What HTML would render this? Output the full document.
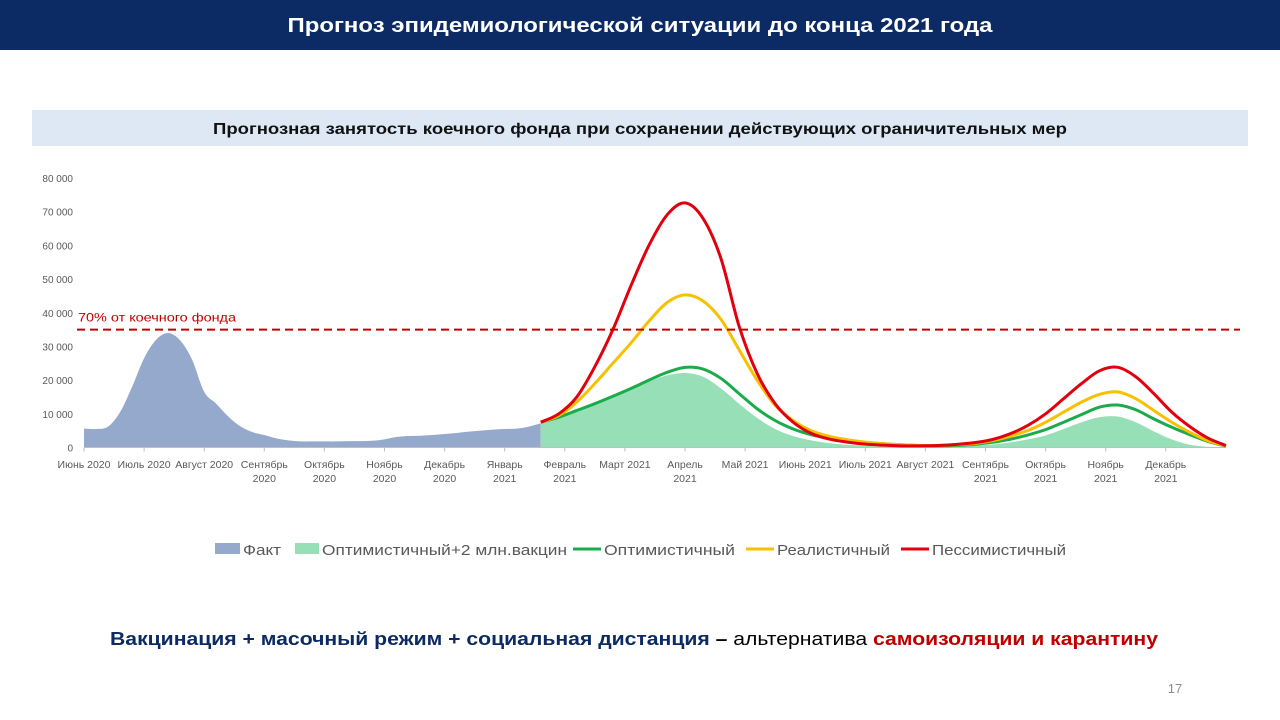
<!DOCTYPE html>
<html><head><meta charset="utf-8"><style>
html,body{margin:0;padding:0;background:#fff;}
svg{display:block;font-family:"Liberation Sans","Noto Sans CJK SC",sans-serif;}
</style></head><body>
<svg id="chart" width="1280" height="720" viewBox="0 0 1280 720">
<rect x="0" y="0" width="1280" height="50" fill="#0c2a63"/>
<text x="640" y="32" text-anchor="middle" font-size="20" font-weight="bold" fill="#fff" textLength="705" lengthAdjust="spacingAndGlyphs">Прогноз эпидемиологической ситуации до конца 2021 года</text>
<rect x="32" y="110" width="1216" height="36" fill="#dde8f4"/>
<text x="640" y="134" text-anchor="middle" font-size="16" font-weight="bold" fill="#111" textLength="854" lengthAdjust="spacingAndGlyphs">Прогнозная занятость коечного фонда при сохранении действующих ограничительных мер</text>
<g id="plot"></g>
<g id="legend" font-size="15" fill="#595959">
<rect x="215" y="543" width="25" height="11" fill="#95a9cc"/>
<text x="243" y="555" textLength="38" lengthAdjust="spacingAndGlyphs">Факт</text>
<rect x="295" y="543" width="24" height="11" fill="#97dfb6"/>
<text x="322" y="555" textLength="245" lengthAdjust="spacingAndGlyphs">Оптимистичный+2 млн.вакцин</text>
<line x1="573" y1="549" x2="601" y2="549" stroke="#1aab4b" stroke-width="3"/>
<text x="604" y="555" textLength="131" lengthAdjust="spacingAndGlyphs">Оптимистичный</text>
<line x1="746" y1="549" x2="774" y2="549" stroke="#f7c000" stroke-width="3"/>
<text x="777" y="555" textLength="113" lengthAdjust="spacingAndGlyphs">Реалистичный</text>
<line x1="901" y1="549" x2="929" y2="549" stroke="#e0000f" stroke-width="3"/>
<text x="932" y="555" textLength="134" lengthAdjust="spacingAndGlyphs">Пессимистичный</text>
</g>
<text x="110" y="645" font-size="18" font-weight="bold" textLength="1048" lengthAdjust="spacingAndGlyphs"><tspan fill="#0c2a63">Вакцинация + масочный режим + социальная дистанция </tspan><tspan fill="#000">– </tspan><tspan fill="#000" font-weight="normal">альтернатива </tspan><tspan fill="#c00000">самоизоляции и карантину</tspan></text>
<text x="1175" y="693" text-anchor="middle" font-size="13" fill="#8c8c8c">17</text>
</svg>
<script>
const yTicks = [0,10000,20000,30000,40000,50000,60000,70000,80000];
const yTickLabels = ["0","10 000","20 000","30 000","40 000","50 000","60 000","70 000","80 000"];
const monthLabels1 = ["Июнь 2020","Июль 2020","Август 2020","Сентябрь","Октябрь","Ноябрь","Декабрь","Январь","Февраль","Март 2021","Апрель","Май 2021","Июнь 2021","Июль 2021","Август 2021","Сентябрь","Октябрь","Ноябрь","Декабрь"];
const monthLabels2 = ["","","","2020","2020","2020","2020","2021","2021","","2021","","","","","2021","2021","2021","2021"];
const threshold = 35000;
const factStart = 0, factStep = 0.2;
const factValues = [5600,5500,6200,10500,18000,26500,32000,34000,31800,26000,16500,13000,9200,6300,4600,3700,2700,2100,1800,1800,1800,1800,1900,1900,2000,2400,3100,3400,3500,3700,4000,4300,4700,5000,5300,5500,5600,6200,7200];
const fcStart = 7.6, fcStep = 0.3;
const vaccineValues = [7500,8800,10600,12600,14800,17200,19600,21400,22100,21000,17500,13000,8800,5500,3400,2100,1300,800,500,300,200,200,200,300,500,900,1500,2400,3600,5500,7500,9000,9200,7500,4800,2400,800,200,0];
const optimisticValues = [7500,9000,11000,13000,15200,17500,20000,22300,23800,23300,20500,16000,11500,8000,5500,3800,2700,2000,1500,1100,800,600,500,600,900,1500,2400,3700,5300,7500,9800,12000,12600,11200,8500,6000,3800,1800,400];
const realisticValues = [7500,9500,13500,19000,25000,31000,37500,43000,45300,43500,38000,29000,20000,12500,8000,5000,3300,2300,1600,1100,800,600,600,800,1200,2000,3300,5000,7500,10500,13500,15800,16500,14500,11000,7500,4500,2000,500];
const pessimisticValues = [7500,10000,15000,24000,35000,48000,60000,69000,72600,68000,56000,36000,22000,13000,7500,4200,2500,1600,1000,700,500,500,600,900,1400,2300,4000,6500,10000,14500,19000,22800,23800,21000,16000,10500,6200,2800,600];

const NS="http://www.w3.org/2000/svg";
const plot=document.getElementById('plot');
const x=m=>84+m*60.1;
const y=v=>447.5-v*(269.5/80000);
function mk(tag,attrs,parent){const e=document.createElementNS(NS,tag);for(const k in attrs)e.setAttribute(k,attrs[k]);(parent||plot).appendChild(e);return e;}
function pts(vals,start,step){return vals.map((v,i)=>[x(start+i*step),y(v)]);}
function smooth(p){let d=`M${p[0][0]},${p[0][1]}`;for(let i=0;i<p.length-1;i++){const p0=p[i-1]||p[i],p1=p[i],p2=p[i+1],p3=p[i+2]||p2;const c1=[p1[0]+(p2[0]-p0[0])/6,p1[1]+(p2[1]-p0[1])/6],c2=[p2[0]-(p3[0]-p1[0])/6,p2[1]-(p3[1]-p1[1])/6];d+=`C${c1[0]},${c1[1]} ${c2[0]},${c2[1]} ${p2[0]},${p2[1]}`;}return d;}

yTicks.forEach((t,i)=>{
 const tx=mk('text',{x:73,y:y(t)+4,'text-anchor':'end','font-size':10,fill:'#595959'});
 tx.textContent=yTickLabels[i];
 
 
});
// fact area
const fp=pts(factValues,factStart,factStep);
const fa=mk('path',{d:smooth(fp)+`L${fp[fp.length-1][0]},${y(0)}L${fp[0][0]},${y(0)}Z`,fill:'#95a9cc'});


const vp=pts(vaccineValues,fcStart,fcStep);
const va=mk('path',{d:smooth(vp)+`L${vp[vp.length-1][0]},${y(0)}L${vp[0][0]},${y(0)}Z`,fill:'#97dfb6'});


// axis
const ax=mk('line',{x1:x(0),y1:y(0),x2:x(19),y2:y(0),stroke:'#bfbfbf','stroke-width':1});


monthLabels1.forEach((l,i)=>{
 const tk=mk('line',{x1:x(i),y1:y(0),x2:x(i),y2:y(0)+4,stroke:'#bfbfbf'});
 
 
 const t=mk('text',{x:x(i),y:468,'text-anchor':'middle','font-size':10.5,fill:'#595959'});
 t.textContent=l;
 
 
 if(monthLabels2[i]){const t2=mk('text',{x:x(i),y:482,'text-anchor':'middle','font-size':10.5,fill:'#595959'});t2.textContent=monthLabels2[i];
 
 }
});
[[optimisticValues,'#1aab4b','optimistic-line'],[realisticValues,'#f7c000','realistic-line'],[pessimisticValues,'#e0000f','pessimistic-line']].forEach(([vals,c,n])=>{
 const l=mk('path',{d:smooth(pts(vals,fcStart,fcStep)),fill:'none',stroke:c,'stroke-width':3,'stroke-linejoin':'round'});
 
 
});
const th=mk('line',{x1:77,y1:y(threshold),x2:1240,y2:y(threshold),stroke:'#c00000','stroke-width':2,'stroke-dasharray':'8,5'});


const tl=mk('text',{x:78,y:y(threshold)-8,'font-size':12,fill:'#c00000',textLength:158,lengthAdjust:'spacingAndGlyphs'});
tl.textContent='70% от коечного фонда';


</script>
</body></html>
